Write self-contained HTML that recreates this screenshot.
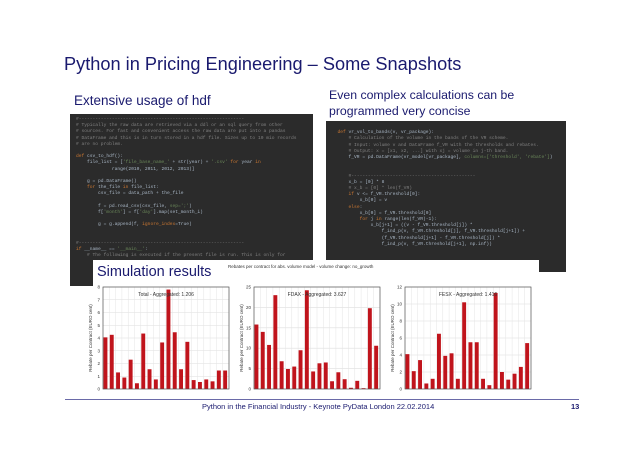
<!DOCTYPE html>
<html><head><meta charset="utf-8"><style>
body{margin:0;width:638px;height:451px;background:#fff;position:relative;overflow:hidden;font-family:"Liberation Sans",sans-serif}
.t{position:absolute;color:#1a1a6e;white-space:nowrap}
.code{position:absolute;background:#2b2b2b;font-family:"Liberation Mono",monospace;font-size:4.6px;line-height:6.2px;color:#a9b7c6;padding:3px 6px;box-sizing:border-box;overflow:hidden;white-space:pre}
.c{color:#808080}.k{color:#cc7832}.s{color:#6a8759}
</style></head><body>
<div class="t" style="left:64px;top:54px;font-size:18.2px">Python in Pricing Engineering – Some Snapshots</div>
<div class="t" style="left:74px;top:93px;font-size:13.5px">Extensive usage of hdf</div>
<div class="t" style="left:329px;top:88px;font-size:12.3px;line-height:15.5px">Even complex calculations can be<br>programmed very concise</div>
<div class="code" style="left:70px;top:114px;width:243px;height:172px"><span class="c">#------------------------------------------------------------
# Typically the raw data are retrieved via a ddl or an sql query from other
# sources. For fast and convenient access the raw data are put into a pandas
# DataFrame and this is in turn stored in a hdf file. Sizes up to 10 mio records
# are no problem.</span>

<span class="k">def</span> csv_to_hdf():
    file_list = [<span class="s">'file_base_name_'</span> + str(year) + <span class="s">'.csv'</span> <span class="k">for</span> year <span class="k">in</span>
             range(2010, 2011, 2012, 2013)]

    g = pd.DataFrame()
    <span class="k">for</span> the_file <span class="k">in</span> file_list:
        csv_file = data_path + the_file

        f = pd.read_csv(csv_file, <span class="s">sep=';'</span>)
        f[<span class="s">'month'</span>] = f[<span class="s">'day'</span>].map(set_month_i)

        g = g.append(f, <span class="k">ignore_index</span>=True)


<span class="c">#------------------------------------------------------------</span>
<span class="k">if</span> __name__ == <span class="s">'__main__'</span>:
    <span class="c"># The following is executed if the present file is run. This is only for</span></div>
<div class="code" style="left:326px;top:121px;width:240px;height:151px">
  <span class="k">def</span> vr_vol_to_bands(v, vr_package):
      <span class="c"># Calculation of the volume in the bands of the VR scheme.
      # Input: volume v and DataFrame f_VR with the thresholds and rebates.
      # Output: x = [x1, x2, ...] with xj = volume in j-th band.</span>
      f_VR = pd.DataFrame(vr_model[vr_package], <span class="s">columns=['threshold', 'rebate']</span>)


      <span class="c">#---------------------------------------------</span>
      x_b = [0] * 8
      <span class="c"># x_b = [0] * len(f_VR)</span>
      <span class="k">if</span> v <= f_VR.threshold[0]:
          x_b[0] = v
      <span class="k">else</span>:
          x_b[0] = f_VR.threshold[0]
          <span class="k">for</span> j <span class="k">in</span> range(len(f_VR)-1):
              x_b[j+1] = ((v - f_VR.threshold[j]) *
                  f_ind_p(v, f_VR.threshold[j], f_VR.threshold[j+1]) +
                  (f_VR.threshold[j+1] - f_VR.threshold[j]) *
                  f_ind_p(v, f_VR.threshold[j+1], np.inf))</div>
<div style="position:absolute;left:93px;top:260px;width:446px;height:136px;background:#fff"></div>
<div class="t" style="left:97px;top:264px;font-size:14.5px">Simulation results</div>
<div class="t" style="left:228px;top:264px;font-size:4.5px;color:#333">Rebates per contract for abs. volume model - volume change: no_growth</div>
<svg id="charts" width="638" height="451" style="position:absolute;left:0;top:0"></svg>
<div style="position:absolute;left:65px;top:399px;width:514px;height:1px;background:#6a6aa8"></div>
<div class="t" style="left:202px;top:402px;font-size:7.5px">Python in the Financial Industry - Keynote PyData London 22.02.2014</div>
<div class="t" style="left:571px;top:402px;font-size:7.5px;font-weight:bold">13</div>
<script>
const titles=["Total - Aggregated: 1.206","FDAX - Aggregated: 3.627","FESX - Aggregated: 1.416"];
const ymaxs=[8,25,12];
const ysteps=[1,5,2];
const totalVals=[4.05,4.25,1.3,0.9,2.3,0.45,4.35,1.55,0.75,3.65,7.8,4.45,1.55,3.7,0.7,0.55,0.75,0.6,1.45,1.45];
const fdaxVals=[15.8,14,10.8,23,6.8,4.9,5.5,9.5,24.2,4.3,6.3,6.5,1.9,4.1,2.4,0.3,2.0,0.2,19.8,10.6];
const fesxVals=[4.1,2.1,3.4,0.65,1.2,6.5,3.9,4.2,1.2,10.2,5.5,5.5,1.2,0.45,11.3,2.0,1.1,1.8,2.6,5.4];
const series=[totalVals,fdaxVals,fesxVals];
const lefts=[103,254,405], W=126, TOP=287, BOT=389;
const svg=document.getElementById('charts');
const NS='http://www.w3.org/2000/svg';
function mk(t,a){const e=document.createElementNS(NS,t);for(const k in a)e.setAttribute(k,a[k]);svg.appendChild(e);return e;}
series.forEach((vals,ci)=>{
  const x0=lefts[ci], ymax=ymaxs[ci];
  const y=v=>BOT-(v/ymax)*(BOT-TOP);
  const n=vals.length, bw=W/n;
  const xs=i=>x0+i*bw;
  for(let v=0;v<=ymax;v+=ysteps[ci]){
    const g=mk('line',{x1:x0,x2:x0+W,y1:y(v),y2:y(v),stroke:'#ddd','stroke-width':0.6});
    
    
    const t=mk('text',{x:x0-3,y:y(v)+1.5,'font-size':4.5,'text-anchor':'end',fill:'#333','font-family':'Liberation Sans'});
    t.textContent=v;
    
    
  }
  for(let i=0;i<=n;i++){
    const g=mk('line',{x1:xs(i),x2:xs(i),y1:TOP,y2:BOT,stroke:'#e4e4e4','stroke-width':0.5});
    
    
  }
  vals.forEach((v,i)=>{
    const b=mk('rect',{x:xs(i)+0.5,y:y(v),width:bw*0.62,height:BOT-y(v),fill:'#c0141c'});
    
    
  });
  const f=mk('rect',{x:x0,y:TOP,width:W,height:BOT-TOP,fill:'none',stroke:'#555','stroke-width':0.7});
  
  
  const tt=mk('text',{x:x0+W/2,y:TOP+9,'font-size':5,'text-anchor':'middle',fill:'#333','font-family':'Liberation Sans'});
  tt.textContent=titles[ci];
  
  
  const yl=mk('text',{x:0,y:0,'font-size':4.5,'text-anchor':'middle',fill:'#333','font-family':'Liberation Sans',transform:`translate(${x0-11},${(TOP+BOT)/2}) rotate(-90)`});
  yl.textContent='Rebate per Contract (EURO cent)';
  
  
});
</script>
</body></html>
